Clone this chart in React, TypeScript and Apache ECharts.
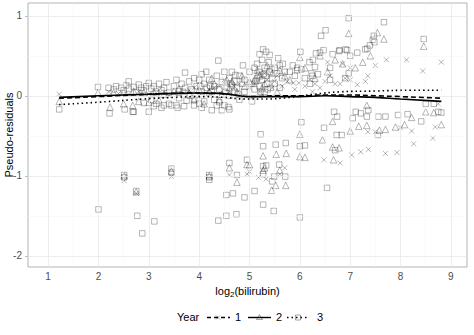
import React, { useEffect, useRef } from "react";
import * as echarts from "echarts";

// ---- tick labels ----
const xTicks = [1, 2, 3, 4, 5, 6, 7, 8, 9];
const yTicks = [-2, -1, 0, 1];
const xMinor = [1.5, 2.5, 3.5, 4.5, 5.5, 6.5, 7.5, 8.5];
const yMinor = [-1.5, -0.5, 0.5];
const years = ["1", "2", "3"];

// ---- Year 1 points (x marks) ----
const year1Points: number[][] = [
  [1.22, 0.02], [2.2, 0.05], [2.4, 0.03], [2.6, 0.02], [2.8, 0.05], [3.0, 0.02], [3.2, 0.07], [3.4, 0.0],
  [3.6, 0.03], [3.8, 0.07], [4.0, 0.0], [4.2, 0.08], [4.4, 0.12], [4.6, 0.05], [4.8, 0.15], [5.0, 0.1],
  [5.2, 0.05], [5.35, 0.2], [5.5, 0.18], [5.65, 0.12], [5.75, 0.18], [5.87, 0.16], [5.98, 0.16], [6.1, 0.12],
  [6.2, 0.2], [6.3, 0.15], [6.4, 0.1], [6.5, 0.18], [6.6, 0.25], [6.7, 0.15], [6.8, 0.15], [6.9, 0.22],
  [7.0, 0.2], [7.14, 0.14], [7.3, 0.18], [7.35, 0.25], [7.5, 0.38], [7.72, 0.45], [8.12, 0.45], [8.44, 0.31],
  [8.81, 0.42], [7.0, 0.35], [6.85, 0.4], [6.55, 0.42], [6.25, 0.05], [5.9, 0.08], [5.45, 0.1],
  [4.3, 0.1], [4.7, 0.12], [5.1, 0.15], [5.3, 0.28], [5.55, 0.25], [3.9, 0.1], [4.5, 0.2],
  [2.51, -1.06], [2.75, -1.22], [3.45, -1.01], [4.6, -0.99], [4.95, -0.98], [5.33, -1.04], [5.7, -0.9],
  [5.0, -0.95], [5.18, -1.02], [5.6, -0.98], [6.48, -0.8], [6.8, -0.84], [7.03, -0.74], [7.21, -0.7],
  [7.36, -0.67], [7.7, -0.72], [7.93, -0.71], [8.26, -0.6], [8.64, -0.53], [8.69, -0.39], [8.22, -0.44],
  [7.35, -0.45], [7.5, -0.45], [8.0, -0.4], [8.75, -0.1]
];

// ---- Year 2 points (triangles) ----
const year2Points: number[][] = [
  [1.22, -0.07], [1.99, 0.04], [2.23, -0.14], [2.5, -0.1], [2.68, -0.12], [2.8, -0.07], [3.0, -0.08],
  [2.3, 0.04], [2.5, 0.05], [2.7, 0.06], [2.9, 0.04], [3.1, 0.05], [3.3, 0.02], [3.5, 0.06], [3.6, 0.09],
  [3.8, 0.03], [4.0, 0.08], [4.2, 0.05], [4.3, 0.15], [4.45, 0.02], [4.6, 0.1], [4.75, 0.05], [4.9, 0.12],
  [5.0, 0.18], [5.1, 0.2], [5.2, 0.25], [5.3, 0.15], [5.45, 0.28], [5.6, 0.32], [5.7, 0.25], [5.8, 0.2],
  [6.0, 0.48], [6.1, 0.35], [6.3, 0.22], [6.4, 0.5], [6.55, 0.3], [6.7, 0.45], [6.85, 0.4], [6.97, 0.78],
  [7.1, 0.35], [7.25, 0.42], [7.4, 0.5], [7.54, 0.79], [7.67, 0.71], [8.46, 0.62], [3.9, -0.05],
  [4.1, -0.1], [4.4, -0.05], [3.2, -0.05], [4.55, 0.2], [5.25, 0.1], [5.55, 0.05],
  [4.65, 0.18], [4.85, 0.25], [5.15, 0.32], [5.35, 0.38], [4.25, 0.22],
  [4.6, -0.9], [4.75, -1.08], [4.95, -0.86], [5.27, -0.75], [5.27, -0.93], [5.44, -1.18], [5.52, -1.12],
  [5.53, -0.73], [5.6, -0.93], [5.72, -1.12], [5.73, -0.72], [6.0, -0.48], [6.0, -0.76], [6.1, -0.77],
  [6.45, -0.55], [6.65, -0.32], [6.65, -0.64], [6.67, -0.8], [6.78, -0.65], [7.0, -0.44], [7.17, -0.38],
  [7.33, -0.12], [7.33, -0.37], [7.58, -0.43], [7.7, -0.42], [7.9, -0.39], [8.08, -0.36], [8.22, -0.27],
  [8.5, -0.2], [8.66, -0.21], [8.81, -0.36], [2.51, -1.0], [2.75, -1.2], [3.45, -0.94], [4.2, -1.0],
  [5.3, -0.9], [5.0, -0.86]
];

// ---- Year 3 points (squares) ----
const year3Points: number[][] = [
  [1.22, -0.17], [2.22, -0.22], [2.52, -0.17], [2.68, -0.2], [3.0, -0.2],
  [1.99, 0.11], [2.2, 0.1], [2.3, 0.08], [2.35, 0.12], [2.45, 0.1], [2.5, 0.07], [2.55, 0.13], [2.6, 0.09],
  [2.6, 0.18], [2.7, 0.11], [2.75, 0.05], [2.8, 0.14], [2.85, 0.1], [2.9, 0.07], [2.9, -0.09], [2.95, 0.12],
  [3.0, 0.16], [3.05, 0.09], [3.05, -0.05], [3.1, 0.12], [3.15, 0.03], [3.15, -0.1], [3.2, 0.15],
  [3.25, 0.07], [3.3, 0.1], [3.3, -0.12], [3.35, 0.17], [3.4, 0.04], [3.45, -0.12], [3.5, 0.12],
  [3.55, 0.2], [3.6, 0.06], [3.6, -0.03], [3.65, 0.15], [3.72, 0.29], [3.72, 0.1], [3.75, -0.06],
  [3.8, 0.18], [3.85, 0.08], [3.9, 0.22], [3.9, -0.04], [3.95, 0.12], [4.0, 0.2], [4.0, -0.1],
  [4.05, 0.27], [4.05, 0.05], [4.1, 0.15], [4.1, -0.07], [4.14, 0.3], [4.15, 0.1], [4.2, 0.2],
  [4.25, 0.05], [4.3, -0.05], [4.3, 0.12], [4.35, 0.25], [4.4, 0.08], [4.4, -0.08], [4.45, 0.17],
  [4.5, 0.3], [4.5, -0.12], [4.55, 0.1], [4.6, 0.22], [4.6, 0.0], [4.65, 0.13], [4.65, 0.3],
  [4.7, 0.05], [4.7, 0.18], [4.75, 0.1], [4.8, 0.25], [4.85, 0.15], [4.87, 0.38], [4.9, 0.2], [4.9, 0.05],
  [5.0, 0.3], [5.05, 0.15], [5.1, 0.35], [5.1, 0.08], [5.15, 0.22], [5.15, 0.4], [5.2, 0.12], [5.2, 0.3],
  [5.25, 0.45], [5.25, 0.2], [5.3, 0.05], [5.3, 0.35], [5.32, 0.25], [5.35, 0.15], [5.38, 0.42],
  [5.4, 0.3], [5.42, 0.1], [5.45, 0.22], [5.5, 0.35], [5.5, 0.15], [5.55, 0.28], [5.6, 0.38], [5.6, 0.1],
  [5.65, 0.22], [5.7, 0.3], [5.8, 0.3], [5.9, 0.25], [5.95, 0.32], [6.1, 0.22], [6.2, 0.15], [6.25, 0.25],
  [4.52, 0.05], [4.62, 0.15], [4.72, 0.26], [4.78, 0.02], [5.12, 0.18], [5.22, 0.05], [5.28, 0.27],
  [5.36, 0.08], [5.44, 0.33], [5.18, 0.26], [3.82, 0.0], [4.02, 0.12], [4.22, 0.12], [3.68, 0.05],
  [2.7, -0.2], [3.1, -0.13], [3.25, -0.15], [3.4, -0.1], [3.57, -0.15], [3.7, -0.13], [3.9, -0.12],
  [4.05, -0.15], [4.25, -0.18], [4.35, -0.12], [4.45, -0.18], [4.58, -0.14], [4.6, -0.17], [4.8, -0.05],
  [5.05, -0.07], [3.55, -0.12],
  [4.38, 0.44], [5.2, 0.52], [5.27, 0.58], [5.4, 0.51], [5.57, 0.47], [5.33, 0.55], [5.66, 0.4],
  [5.86, 0.38], [5.95, 0.35], [6.03, 0.33], [6.01, 0.55], [6.19, 0.42], [6.26, 0.45], [6.3, 0.36],
  [6.23, 0.28], [6.36, 0.27], [6.32, 0.53], [6.4, 0.54], [6.42, 0.75], [6.47, 0.57], [6.51, 0.82],
  [6.6, 0.35], [6.65, 0.52], [6.78, 0.56], [6.79, 0.57], [6.91, 0.58], [6.94, 0.57], [6.97, 0.97],
  [6.97, 0.28], [7.14, 0.54], [7.3, 0.58], [7.34, 0.59], [7.39, 0.63], [7.45, 0.7], [7.48, 0.67],
  [7.47, 0.75], [7.67, 0.92], [8.46, 0.71], [6.9, 0.22], [6.6, 0.2], [7.0, 0.5],
  [2.0, -1.42], [2.51, -0.99], [2.51, -1.02], [2.75, -1.19], [2.77, -1.5], [2.87, -1.72], [3.11, -1.57],
  [3.45, -0.91], [3.45, -0.96], [4.2, -0.99], [4.2, -1.02], [4.2, -1.05], [4.38, -1.56], [4.54, -1.24],
  [4.54, -1.5], [4.6, -0.84], [4.67, -1.22], [4.74, -1.48], [4.75, -0.99], [4.9, -1.27], [4.95, -0.8],
  [5.1, -1.19], [5.22, -0.48], [5.27, -0.63], [5.27, -0.88], [5.27, -0.98], [5.27, -1.36], [5.33, -0.87],
  [5.45, -1.07], [5.48, -1.44], [5.49, -1.01], [5.52, -0.61], [5.59, -0.86], [5.71, -1.01], [5.72, -0.59],
  [6.0, -0.63], [6.0, -1.52], [6.03, -0.33], [6.1, -0.62], [6.48, -0.4], [6.54, -1.15], [6.68, -0.2],
  [6.74, -0.26], [6.73, -0.49], [6.83, -0.49], [6.7, -0.68], [7.05, -0.28], [7.11, -0.2], [7.21, -0.22],
  [7.36, -0.18], [7.33, -0.26], [7.55, -0.49], [7.56, -0.26], [7.7, -0.26], [7.95, -0.24], [8.14, -0.23],
  [8.41, -0.32], [8.66, -0.1], [8.75, -0.2], [8.81, -0.21], [8.5, -0.1]
];

// ---- smoothed curves ----
const year1Curve: number[][] = [
  [1.22, -0.03], [2, -0.01], [3, 0.02], [3.5, 0.03], [4, 0.035], [4.4, 0.03], [4.8, 0.0], [5, -0.01],
  [5.6, 0.0], [6, 0.0], [6.5, 0.01], [7, 0.01], [7.5, 0.0], [8, -0.01], [8.81, -0.03]
];
const year2Curve: number[][] = [
  [1.22, -0.02], [2, 0.0], [3, 0.02], [3.5, 0.03], [4, 0.035], [4.4, 0.03], [4.8, 0.0], [5, -0.01],
  [5.6, -0.01], [6, -0.01], [6.5, 0.0], [7, -0.01], [7.5, -0.02], [8, -0.04], [8.81, -0.07]
];
const year3Curve: number[][] = [
  [1.22, -0.11], [2, -0.08], [2.9, -0.04], [3.5, -0.02], [4, -0.01], [4.5, -0.02], [4.9, -0.04],
  [5.3, -0.04], [5.8, -0.02], [6.3, 0.02], [6.8, 0.05], [7.5, 0.06], [8.2, 0.07], [8.81, 0.07]
];

const FONT = "Liberation Sans, Arial, sans-serif";
const PT = "rgba(0,0,0,0.45)";
const XSYM = "path://M0 0L10 10M10 0L0 10";

export default function App() {
  const ref = useRef<HTMLDivElement>(null);
  useEffect(() => {
    document.body.style.margin = "0";
    if (!ref.current) return;
    const chart = echarts.init(ref.current, null, { renderer: "svg" });
    const ptStyle = { color: "none", borderColor: PT, borderWidth: 0.8 };
    const gridLine = (vals: number[], key: "xAxis" | "yAxis", color: string, width: number) =>
      vals.map((v) => ({ [key]: v, lineStyle: { color, width, type: "solid" } }));

    const option: any = {
      animation: false,
      textStyle: { fontFamily: FONT },
      grid: {
        left: 28, right: 7, top: 3, bottom: 68, containLabel: false, outerBoundsMode: "none",
        show: true, borderColor: "#b3b3b3", borderWidth: 1, backgroundColor: "#fff",
      },
      xAxis: {
        type: "value", min: 0.6, max: 9.32,
        axisLine: { show: false },
        axisTick: { show: true, customValues: xTicks, length: 3, lineStyle: { color: "#b3b3b3", width: 0.8 } },
        axisLabel: { customValues: xTicks, color: "#4d4d4d", fontSize: 10, margin: 4, fontFamily: FONT },
        splitLine: { show: false },
        name: "log{sub|2}(bilirubin)",
        nameLocation: "middle",
        nameGap: 15,
        nameTextStyle: {
          color: "#000", fontSize: 11, fontFamily: FONT,
          rich: { sub: { fontSize: 8, verticalAlign: "bottom", padding: [6, 0, 0, 0], fontFamily: FONT, color: "#000" } },
        },
      },
      yAxis: {
        type: "value", min: -2.14, max: 1.16,
        axisLine: { show: false },
        axisTick: { show: true, customValues: yTicks, length: 3, lineStyle: { color: "#b3b3b3", width: 0.8 } },
        axisLabel: { customValues: yTicks, color: "#4d4d4d", fontSize: 10, margin: 6, fontFamily: FONT },
        splitLine: { show: false },
      },
      series: [
        {
          type: "scatter", data: [], z: 0, silent: true,
          markLine: {
            silent: true, symbol: ["none", "none"], label: { show: false }, animation: false,
            data: [
              ...gridLine(xMinor, "xAxis", "#f4f4f4", 0.5),
              ...gridLine(yMinor, "yAxis", "#f4f4f4", 0.5),
              ...gridLine(xTicks, "xAxis", "#e8e8e8", 0.8),
              ...gridLine(yTicks, "yAxis", "#e8e8e8", 0.8),
            ],
          },
        },
        { name: years[2], type: "scatter", data: year3Points, symbol: "rect", symbolSize: 5.5, itemStyle: ptStyle, z: 2 },
        { name: years[1], type: "scatter", data: year2Points, symbol: "triangle", symbolSize: 6.5, itemStyle: ptStyle, z: 2 },
        { name: years[0], type: "scatter", data: year1Points, symbol: XSYM, symbolSize: 5, itemStyle: ptStyle, z: 2 },
        {
          name: years[0], type: "line", data: year1Curve, smooth: true, symbol: "none", z: 5,
          lineStyle: { color: "#000", width: 1.6, type: [5, 3] },
        },
        {
          name: years[1], type: "line", data: year2Curve, smooth: true, symbol: "none", z: 5,
          lineStyle: { color: "#000", width: 1.6, type: "solid" },
        },
        {
          name: years[2], type: "line", data: year3Curve, smooth: true, symbol: "none", z: 5,
          lineStyle: { color: "#000", width: 1.6, type: [1.5, 3] },
        },
      ],
      graphic: [
        {
          type: "text", x: 9, y: 135, rotation: Math.PI / 2,
          style: { text: "Pseudo-residuals", fontSize: 11, fill: "#000", fontFamily: FONT, align: "center", verticalAlign: "middle" },
        },
        { type: "text", left: 177, top: 311, style: { text: "Year", fontSize: 11, fill: "#000", fontFamily: FONT } },
        { type: "line", shape: { x1: 207, y1: 317.5, x2: 230, y2: 317.5 }, style: { stroke: "#000", lineWidth: 1.4, lineDash: [4, 3] } },
        { type: "polyline", shape: { points: [[216, 315.5], [220, 319.5]] }, style: { stroke: PT, lineWidth: 0.8 } },
        { type: "polyline", shape: { points: [[220, 315.5], [216, 319.5]] }, style: { stroke: PT, lineWidth: 0.8 } },
        { type: "text", left: 235, top: 311, style: { text: "1", fontSize: 11, fill: "#000", fontFamily: FONT } },
        { type: "line", shape: { x1: 248, y1: 317.5, x2: 271, y2: 317.5 }, style: { stroke: "#000", lineWidth: 1.4 } },
        { type: "polygon", shape: { points: [[259.5, 314.5], [262.5, 319.5], [256.5, 319.5]] }, style: { fill: "none", stroke: PT, lineWidth: 0.8 } },
        { type: "text", left: 276, top: 311, style: { text: "2", fontSize: 11, fill: "#000", fontFamily: FONT } },
        { type: "line", shape: { x1: 287, y1: 317.5, x2: 308, y2: 317.5 }, style: { stroke: "#000", lineWidth: 1.4, lineDash: [1.5, 3] } },
        { type: "rect", shape: { x: 295.5, y: 315, width: 5, height: 5 }, style: { fill: "none", stroke: PT, lineWidth: 0.8 } },
        { type: "text", left: 317, top: 311, style: { text: "3", fontSize: 11, fill: "#000", fontFamily: FONT } },
      ],
    };
    chart.setOption(option);
    return () => chart.dispose();
  }, []);
  return <div ref={ref} style={{ width: 474, height: 335 }} />;
}
